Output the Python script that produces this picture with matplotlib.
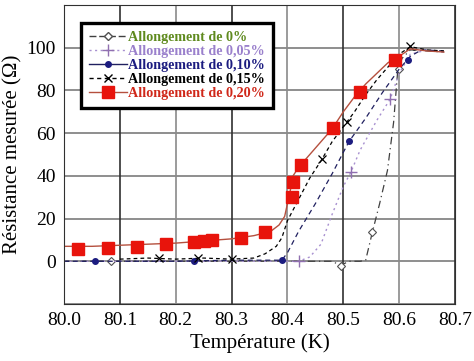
import matplotlib as _mpl
_mpl.use("Agg")
import matplotlib.pyplot as plt
from matplotlib.lines import Line2D

# 0.20 % (red)
t20 = [80.00, 80.05, 80.10, 80.15, 80.20, 80.25, 80.30, 80.34, 80.37, 80.385, 80.395, 80.40,
       80.405, 80.41, 80.42, 80.44, 80.46, 80.48, 80.50, 80.52, 80.54, 80.56, 80.58, 80.60,
       80.62, 80.65, 80.68]
r20 = [7, 7, 7.5, 8, 8.5, 9.5, 10.5, 12, 14, 17, 21, 27, 33, 40, 44, 50, 56, 62, 70, 77, 83,
       88, 93, 96, 99.5, 98.5, 98]
t20_m = [80.025, 80.079, 80.131, 80.183, 80.233, 80.250, 80.265, 80.317, 80.36, 80.408,
         80.410, 80.425, 80.482, 80.530, 80.593]
r20_m = [5.6, 6.1, 6.5, 7.9, 8.9, 9.5, 9.9, 10.7, 13.5, 30, 37, 45.3, 62.6, 79.4, 94.4]

# 0.15 % (black)
t15 = [80.10, 80.15, 80.20, 80.25, 80.30, 80.34, 80.36, 80.38, 80.39, 80.40, 80.42, 80.44,
       80.46, 80.48, 80.50, 80.52, 80.54, 80.56, 80.58, 80.60, 80.62, 80.65, 80.68]
r15 = [1, 1.5, 1, 1.5, 1, 1.5, 3.5, 7, 11, 19, 29, 39, 47, 56, 63, 70, 78, 85, 91, 97,
       100.5, 99, 98.5]
t15_m = [80.17, 80.24, 80.30, 80.462, 80.507, 80.62]
r15_m = [1.5, 1.5, 1, 48, 65, 101]

# 0.10 % (navy)
t10 = [80.00, 80.10, 80.20, 80.30, 80.37, 80.39, 80.40, 80.42, 80.45, 80.48, 80.51, 80.54,
       80.57, 80.60, 80.62, 80.64, 80.68]
r10 = [0, 0, 0, 0.5, 0.5, 0.5, 4, 14, 27, 41, 56, 67, 79, 90, 96, 99, 98.5]
t10_m = [80.056, 80.233, 80.391, 80.511, 80.616]
r10_m = [0, 0, 0.5, 56.5, 94.4]

# 0.05 % (lavender)
t05 = [80.00, 80.10, 80.20, 80.30, 80.40, 80.42, 80.44, 80.46, 80.48, 80.50, 80.514, 80.53,
       80.56, 80.584, 80.60, 80.62, 80.65, 80.68]
r05 = [0, 0, 0, 0, 0, 0, 2, 8, 22, 35, 42, 52, 66, 76, 88, 97, 99, 98]
t05_m = [80.42, 80.514, 80.584]
r05_m = [0, 42, 76]

# 0 %
t00 = [80.00, 80.10, 80.20, 80.30, 80.40, 80.48, 80.495, 80.51, 80.53, 80.54, 80.552, 80.565,
       80.579, 80.59, 80.597, 80.605, 80.62, 80.65, 80.68]
r00 = [0, 0, 0, 0, 0, 0, -2, 0, 0, 0.5, 13.6, 27, 42.5, 65, 88, 95, 99, 98.5, 98]
t00_m = [80.084, 80.495, 80.552, 80.60]
r00_m = [0, -2, 13.6, 90]

labels = ["Allongement de 0%", "Allongement de 0,05%", "Allongement de 0,10%",
          "Allongement de 0,15%", "Allongement de 0,20%"]
text_colors = ["#5f8a1e", "#9a80cc", "#1c1c80", "black", "#d0281a"]
xticks = [80.0, 80.1, 80.2, 80.3, 80.4, 80.5, 80.6, 80.7]
yticks = [0, 20, 40, 60, 80, 100]

plt.rcParams['font.family'] = ['Liberation Serif', 'DejaVu Serif']

fig = plt.figure(figsize=(4.74, 3.61), dpi=100)
ax = fig.add_axes([0.135, 0.158, 0.825, 0.828])
ax.set_xlim(80.0, 80.7)
ax.set_ylim(-20, 120)

for y in range(-20, 121, 20):
    ax.axhline(y, color="#707070", lw=1.1, zorder=0)
for i, x in enumerate(xticks):
    ax.axvline(x, color="#303030" if i % 2 else "#8a8a8a", lw=1.2, zorder=0)

ax.plot(t00, r00, color="#404040", lw=0.9, ls=(0, (6, 3, 1, 3)))
ax.plot(t00_m, r00_m, ls="none", marker="D", ms=4, mfc="white", mec="#505050", mew=0.8)
ax.plot(t05, r05, color="#a890d0", lw=1.0, ls=(0, (1.5, 2.5)))
ax.plot(t05_m, r05_m, ls="none", marker="+", ms=9, mec="#9070b0", mew=1.0)
ax.plot(t10, r10, color="#202060", lw=0.9, ls=(0, (4, 3)))
ax.plot(t10_m, r10_m, ls="none", marker="o", ms=4, mfc="#1c1c80", mec="#1c1c80")
ax.plot(t15, r15, color="black", lw=0.9, ls=(0, (3, 2.5)))
ax.plot(t15_m, r15_m, ls="none", marker="x", ms=6, mec="black", mew=0.9)
ax.plot(t20, r20, color="#b5503e", lw=1.0)
ax.plot(t20_m, r20_m, ls="none", marker="s", ms=9, mfc="#e8140c", mec="#e8140c")

handles = [
    Line2D([], [], color="#404040", lw=1, ls=(0, (5, 2)), marker="D", ms=4, mfc="white",
           mec="#505050"),
    Line2D([], [], color="#a890d0", lw=1, ls=(0, (1.5, 2.5)), marker="+", ms=8, mec="#9070b0"),
    Line2D([], [], color="#202060", lw=1, marker="o", ms=4, mfc="#1c1c80", mec="#1c1c80"),
    Line2D([], [], color="black", lw=1, ls=(0, (3, 2.5)), marker="x", ms=6, mec="black"),
    Line2D([], [], color="#b5503e", lw=1, marker="s", ms=9, mfc="#e8140c", mec="#e8140c"),
]
leg = ax.legend(handles, labels, loc="upper left", bbox_to_anchor=(0.043, 0.94),
                prop={"weight": "bold", "size": 10.2}, labelspacing=0.08, handlelength=2.7,
                handletextpad=0.1, borderpad=0.55, fancybox=False, framealpha=1,
                edgecolor="black", borderaxespad=0)
leg.get_frame().set_linewidth(2.4)
for txt, c in zip(leg.get_texts(), text_colors):
    txt.set_color(c)

ax.set_xticks(xticks)
ax.set_xticklabels([f"{v:.1f}" for v in xticks])
ax.set_yticks(yticks)
ax.tick_params(length=0, labelsize=14, pad=6)
for s in ax.spines.values():
    s.set_color("#303030")
ax.set_xlabel("Température (K)", fontsize=15, labelpad=3)
ax.set_ylabel("Résistance mesurée (Ω)", fontsize=15, labelpad=3)

fig.savefig("out.png", dpi=100)
